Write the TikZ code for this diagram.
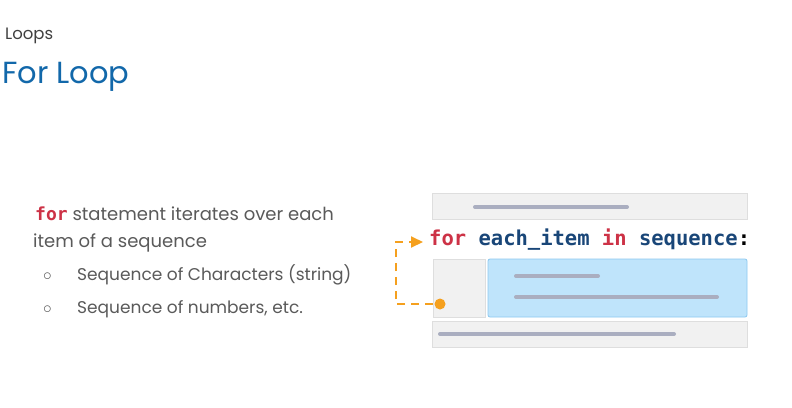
\documentclass[tikz,border=0pt]{standalone}
\usepackage{fontspec}
\setmainfont{Poppins}
\newfontfamily\codefont{DejaVu Sans Mono}
\usetikzlibrary{arrows.meta}
\definecolor{titleblue}{RGB}{18,104,170}
\definecolor{kwred}{RGB}{205,50,70}
\definecolor{idblue}{RGB}{25,70,120}
\definecolor{boxgray}{RGB}{241,241,241}
\definecolor{edgegray}{RGB}{222,222,222}
\definecolor{barcol}{RGB}{170,174,192}
\definecolor{bodyblue}{RGB}{191,228,251}
\definecolor{bodyedge}{RGB}{140,200,240}
\definecolor{loopor}{RGB}{245,160,30}
\definecolor{textgray}{RGB}{90,90,90}
\tikzset{
  graybox/.style={fill=boxgray, draw=edgegray, line width=0.8pt},
  bar/.style={barcol, line width=4pt, line cap=round},
  body/.style={anchor=base west, font=\fontsize{18}{22}\selectfont, text=textgray, inner sep=0pt},
  item/.style={anchor=base west, font=\fontsize{17}{21}\selectfont, text=textgray, inner sep=0pt},
}
\begin{document}
\begin{tikzpicture}[x=1pt,y=-1pt]
  \useasboundingbox[fill=white] (0,0) rectangle (792,407);

  \node[anchor=base west, inner sep=0pt, font=\fontsize{16.5}{19}\selectfont, text=black!75] (sec) at (5,39) {Loops};
  \node[anchor=base west, inner sep=0pt, font=\fontsize{30.5}{34}\selectfont, text=titleblue] (title) at (2,83) {For Loop};

  \node[body] (l1) at (35,220)
    {{\codefont\bfseries\color{kwred}for} statement iterates over each};
  \node[body] (l2) at (33,247) {item of a sequence};
  \node[item] (b1) at (43,280) {$\circ$};
  \node[item] (t1) at (77,280) {Sequence of Characters (string)};
  \node[item] (b2) at (43,313) {$\circ$};
  \node[item] (t2) at (77,313) {Sequence of numbers, etc.};

  % code blocks
  \draw[graybox] (432,193) rectangle (747,219);
  \draw[bar] (475,207) -- (627,207);
  \node[anchor=base west, inner sep=0pt, font=\codefont\fontsize{20.5}{24}\selectfont\bfseries] (code) at (429,245)
    {\textcolor{kwred}{for} \textcolor{idblue}{each\_item} \textcolor{kwred}{in} \textcolor{idblue}{sequence}:};
  \draw[graybox] (433,259) rectangle (485,317);
  \draw[fill=bodyblue, draw=bodyedge, line width=0.8pt, rounded corners=2pt] (488,259) rectangle (747,317);
  \draw[bar] (516,276) -- (598,276);
  \draw[bar] (516,297) -- (717,297);
  \draw[graybox] (432,321) rectangle (747,347);
  \draw[bar] (440,334) -- (674,334);

  % loop back arrow
  \fill[loopor] (440,304) circle (5.5);
  \coordinate (dot) at (433,304);
  \draw[loopor, line width=2pt, dash pattern=on 8pt off 6pt, -{Triangle[length=12pt,width=11pt]}]
    (dot) -- (396,304) -- (396,242) -- ([xshift=-6pt]code.west |- 0,242);
\end{tikzpicture}
\end{document}
